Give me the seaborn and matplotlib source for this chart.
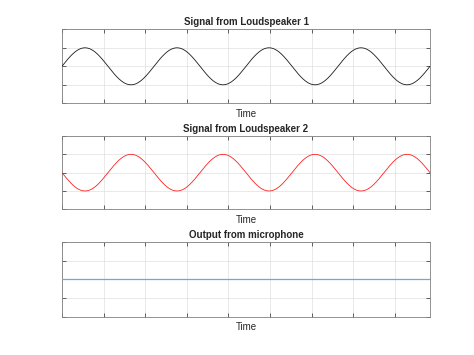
import numpy as np
import pandas as pd
import matplotlib
matplotlib.use('Agg')
import matplotlib.pyplot as plt
import seaborn as sns

# signal parameters
freq_hz = 452.0
n_periods = 4
amp_speaker1 = 1.0
amp_speaker2 = -1.0   # same tone, opposite phase
y_limits = [-2, 2]
y_ticks = [-2, -1, 0, 1, 2]
tick_step = 0.001
titles = ['Signal from Loudspeaker 1', 'Signal from Loudspeaker 2', 'Output from microphone']
line_colors = ['#1A1A1A', '#FF2020', '#6FA8DC']
line_widths = [0.6, 0.6, 0.9]

t_end = n_periods / freq_hz
t = np.linspace(0, t_end, 800)
speaker1 = amp_speaker1 * np.sin(2 * np.pi * freq_hz * t)
speaker2 = amp_speaker2 * np.sin(2 * np.pi * freq_hz * t)
mic = speaker1 + speaker2

signals = pd.DataFrame({'t': t, 's1': speaker1, 's2': speaker2, 'mic': mic})

sns.set_style('whitegrid')
plt.rcParams['font.family'] = ['Liberation Sans', 'DejaVu Sans']

fig = plt.figure(figsize=(4.74, 3.55), dpi=100)
positions = [
    [0.1308, 0.709, 0.7764, 0.2085],
    [0.1308, 0.4104, 0.7764, 0.2065],
    [0.1308, 0.1079, 0.7764, 0.2096],
]

for pos, col, title, color, lw in zip(positions, ['s1', 's2', 'mic'], titles, line_colors, line_widths):
    ax = fig.add_axes(pos)
    ax.set_axisbelow(True)
    sns.lineplot(data=signals, x='t', y=col, color=color, linewidth=lw, ax=ax, zorder=5)
    ax.set_xlim(0, t_end)
    ax.set_ylim(*y_limits)
    ax.set_xticks(np.arange(0, t_end, tick_step))
    ax.set_yticks(y_ticks)
    ax.set_xticklabels([])
    ax.set_yticklabels([])
    ax.set_ylabel('')
    ax.set_xlabel('Time', fontsize=7, labelpad=3)
    ax.set_title(title, fontsize=7, fontweight='bold', pad=3)
    ax.grid(True, color='#E0E0E0', linewidth=0.5, zorder=0)
    ax.tick_params(direction='in', length=3, width=0.5, color='#262626', pad=1,
                   top=True, right=True, bottom=True, left=True)
    for spine in ax.spines.values():
        spine.set_color('#808080')
        spine.set_linewidth(0.6)

fig.savefig('out.png', dpi=100)
